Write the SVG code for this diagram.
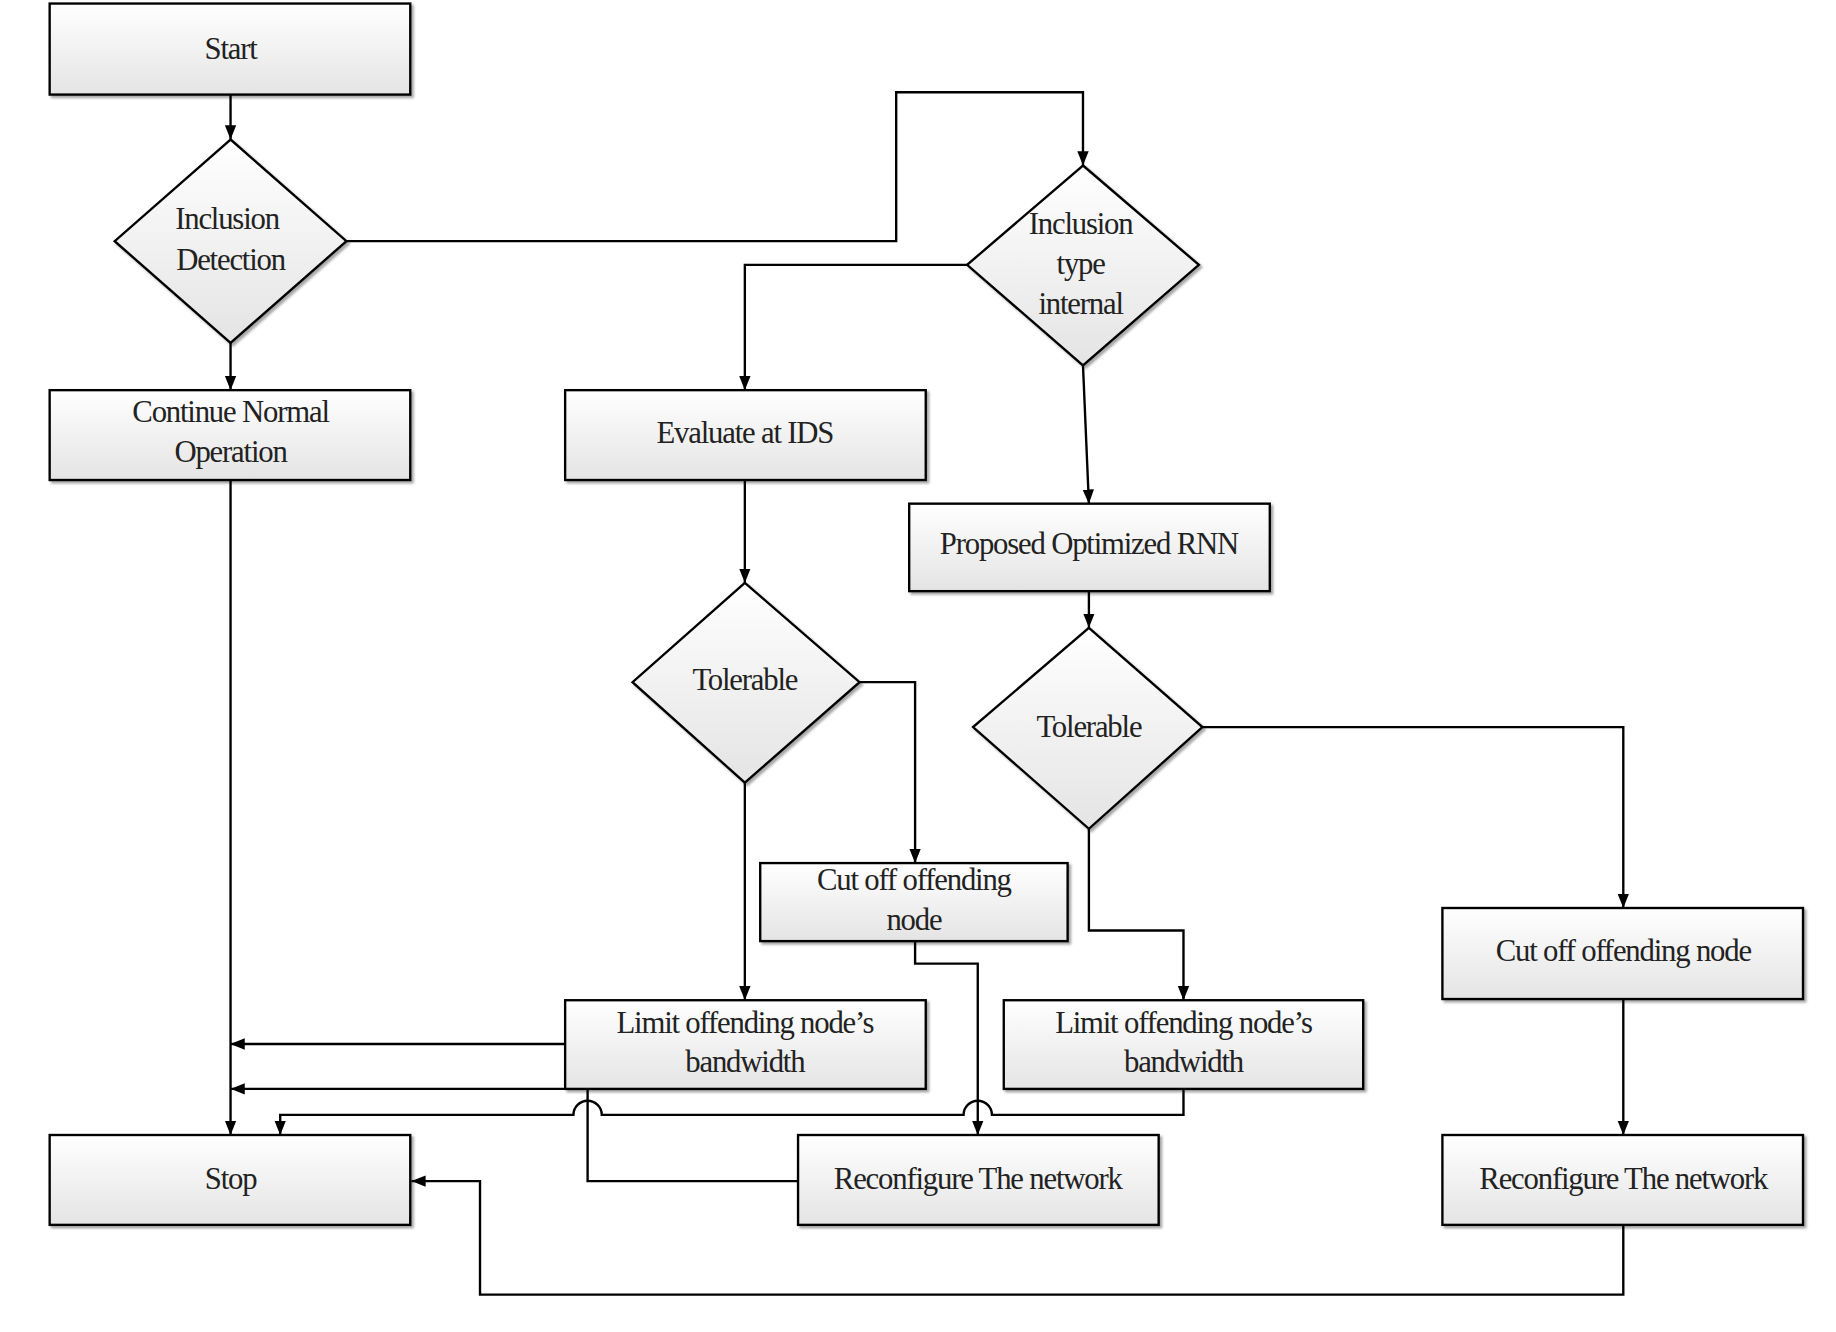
<svg xmlns="http://www.w3.org/2000/svg" width="1836" height="1332" viewBox="0 0 1836 1332">
<style>
.n{fill:url(#g);stroke:#000;stroke-width:2;filter:url(#sh)}
.t{font-family:"Liberation Serif",serif;font-size:26px;fill:#222;text-anchor:middle;letter-spacing:-1px}
.c{fill:none;stroke:#000;stroke-width:2}
</style>
<defs>
<linearGradient id="g" x1="0" y1="0" x2="0" y2="1"><stop offset="0" stop-color="#ffffff"/><stop offset="1" stop-color="#e4e4e4"/></linearGradient>
<filter id="sh" x="-5%" y="-5%" width="112%" height="115%"><feDropShadow dx="2" dy="2" stdDeviation="1" flood-color="#000" flood-opacity="0.35"/></filter>
<marker id="a" viewBox="0 0 10 10" refX="10" refY="5" markerWidth="6" markerHeight="6" orient="auto"><path d="M0,1 L10,5 L0,9 z" fill="#000"/></marker>
</defs>
<rect width="1836" height="1332" fill="#fff"/>
<g transform="scale(1.1823)">
<g id="connectors" class="c" marker-end="url(#a)">
<path d="M195,80 V118"/>
<path d="M293,204 H758 V78 H916 V140"/>
<path d="M818,224 H630 V330"/>
<path d="M916,309 L921,426"/>
<path d="M195,290 V330"/>
<path d="M630,406 V493"/>
<path d="M921,500 V531"/>
<path d="M727,577 H774 V730"/>
<path d="M630,662 V846"/>
<path d="M921,701 V787 H1001 V846"/>
<path d="M1017,615 H1373 V768"/>
<path d="M1373,845 V960"/>
<path d="M1373,1036 V1095 H406 V999 H348"/>
<path d="M195,406 V960"/>
<path d="M478,883 H195"/>
<path d="M675,999 H497 V921 H195"/>
<path d="M774,796 V815 H827 V960"/>
<path d="M1001,921 V943 H839 A12,12 0 0 0 815,943 H509 A12,12 0 0 0 485,943 H237 V960"/>
</g>
<g id="start"><rect class="n" x="42" y="3" width="305" height="77"/><text class="t" x="195" y="50">Start</text></g>
<g id="d1"><polygon class="n" points="195,118 293,204 195,290 97,204"/><text class="t" x="192" y="194">Inclusion</text><text class="t" x="195" y="228">Detection</text></g>
<g id="d2"><polygon class="n" points="916,140 1014,224 916,309 818,224"/><text class="t" x="914" y="198">Inclusion</text><text class="t" x="914" y="232">type</text><text class="t" x="914" y="266">internal</text></g>
<g id="cont"><rect class="n" x="42" y="330" width="305" height="76"/><text class="t" x="195" y="357">Continue Normal</text><text class="t" x="195" y="391">Operation</text></g>
<g id="eval"><rect class="n" x="478" y="330" width="305" height="76"/><text class="t" x="630" y="375">Evaluate at IDS</text></g>
<g id="rnn"><rect class="n" x="769" y="426" width="305" height="74"/><text class="t" x="921" y="469">Proposed Optimized RNN</text></g>
<g id="tol1"><polygon class="n" points="630,493 727,577 630,662 535,577"/><text class="t" x="630" y="584">Tolerable</text></g>
<g id="tol2"><polygon class="n" points="921,531 1017,615 921,701 823,615"/><text class="t" x="921" y="623">Tolerable</text></g>
<g id="cut1"><rect class="n" x="643" y="730" width="260" height="66"/><text class="t" x="773" y="753">Cut off offending</text><text class="t" x="773" y="787">node</text></g>
<g id="cut2"><rect class="n" x="1220" y="768" width="305" height="77"/><text class="t" x="1373" y="813">Cut off offending node</text></g>
<g id="lim1"><rect class="n" x="478" y="846" width="305" height="75"/><text class="t" x="630" y="874">Limit offending node’s</text><text class="t" x="630" y="907">bandwidth</text></g>
<g id="lim2"><rect class="n" x="849" y="846" width="304" height="75"/><text class="t" x="1001" y="874">Limit offending node’s</text><text class="t" x="1001" y="907">bandwidth</text></g>
<g id="stop"><rect class="n" x="42" y="960" width="305" height="76"/><text class="t" x="195" y="1006">Stop</text></g>
<g id="rec1"><rect class="n" x="675" y="960" width="305" height="76"/><text class="t" x="827" y="1006">Reconfigure The network</text></g>
<g id="rec2"><rect class="n" x="1220" y="960" width="305" height="76"/><text class="t" x="1373" y="1006">Reconfigure The network</text></g>
</g>
</svg>
